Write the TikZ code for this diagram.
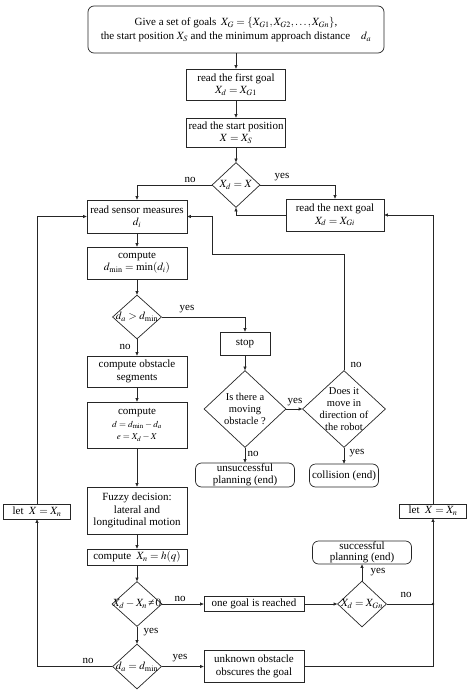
\documentclass[tikz,border=0pt]{standalone}
\usepackage{mathptmx}
\usepackage{fontspec}
\setmainfont{Liberation Serif}
\usetikzlibrary{shapes.geometric,arrows.meta}
\definecolor{ink}{gray}{0.15}
\newcommand\fs{\fontsize{11}{12.5}\selectfont}
\tikzset{
  box/.style={draw=ink, line width=0.7pt, inner sep=1pt, align=center, font=\fs, text=black},
  rbox/.style={box, rounded corners=6pt},
  dia/.style={draw=ink, line width=0.7pt, diamond, inner sep=0pt},
  dlab/.style={font=\fs, align=center, inner sep=0pt},
  lab/.style={font=\fs, inner sep=0pt},
  ln/.style={draw=ink, line width=0.7pt},
  arr/.style={ln, -{Triangle[length=3.5pt,width=3pt]}},
}
\begin{document}
\begin{tikzpicture}[x=1pt,y=-1pt]
\useasboundingbox (0,0) rectangle (474,695);
% boxes
\node[rbox, minimum width=296pt, minimum height=47pt, font=\fontsize{11}{14}\selectfont] (top) at (236,29.5)
  {Give a set of goals\, $X_G=\{X_{G1},X_{G2},\dots,X_{Gn}\}$,\\ the start position $X_S$ and the minimum approach distance\quad $d_a$};
\node[box, minimum width=99pt, minimum height=31pt] (first) at (236,84.5) {read the first goal\\ $X_d = X_{G1}$};
\node[box, minimum width=99pt, minimum height=29pt] (start) at (236,132.5) {read the start position\\ $X = X_S$};
\node[dia, minimum width=48pt, minimum height=45pt, label={[dlab]center:$X_d = X$}] (d1) at (236,185) {};
\node[box, minimum width=100pt, minimum height=33pt] (sensor) at (137,216.5) {read sensor measures\\ $d_i$};
\node[box, minimum width=98pt, minimum height=32pt] (next) at (335,215) {read the next goal\\ $X_d = X_{Gi}$};
\node[box, minimum width=100pt, minimum height=32pt] (dmin) at (137,263) {compute\\ $d_{\min} = \min(d_i)$};
\node[dia, minimum width=49pt, minimum height=44pt, label={[dlab]center:$d_a > d_{\min}$}] (d2) at (137,317) {};
\node[box, minimum width=50pt, minimum height=23pt] (stop) at (245,343.5) {stop};
\node[box, minimum width=100pt, minimum height=31pt] (obst) at (137,371.5) {compute obstacle\\ segments};
\node[box, minimum width=100pt, minimum height=46pt] (comp) at (137,425) {compute\\ {\small $d = d_{\min} - d_a$}\\ {\small $e = X_d - X$}};
\node[dia, minimum width=82pt, minimum height=77pt, label={[dlab, font=\fontsize{10.5}{12}\selectfont]center:Is there a\\ moving\\ obstacle ?}] (d3) at (245,409) {};
\node[dia, minimum width=83pt, minimum height=77pt, label={[dlab, font=\fontsize{10.5}{12}\selectfont]center:Does it\\ move in\\ direction of\\ the robot}] (d4) at (344,409) {};
\node[rbox, minimum width=99pt, minimum height=24pt, inner sep=0pt, font=\fontsize{11}{11.5}\selectfont] (unsucc) at (245,475) {unsuccessful\\ planning (end)};
\node[rbox, minimum width=69pt, minimum height=23pt] (coll) at (344,475.5) {collision (end)};
\node[box, minimum width=100pt, minimum height=47pt] (fuzzy) at (137,510.5) {Fuzzy decision:\\ lateral and\\ longitudinal motion};
\node[box, minimum width=67pt, minimum height=15pt] (letL) at (37,511.5) {let\enspace $X = X_n$};
\node[box, minimum width=67pt, minimum height=14pt] (letR) at (433,511) {let\enspace $X = X_n$};
\node[rbox, minimum width=99pt, minimum height=23pt, inner sep=0pt, font=\fontsize{11}{11.5}\selectfont] (succ) at (362,552.5) {successful\\ planning (end)};
\node[box, minimum width=100pt, minimum height=16pt] (compXn) at (137,557) {compute\enspace $X_n = h(q)$};
\node[dia, minimum width=50pt, minimum height=45pt, label={[dlab]center:$X_d - X_n\,$\mbox{≠}$\,0$}] (d5) at (137,604) {};
\node[box, minimum width=100pt, minimum height=15pt] (goal) at (254,604) {one goal is reached};
\node[dia, minimum width=49pt, minimum height=46pt, label={[dlab]center:$X_d = X_{Gn}$}] (d6) at (362,604) {};
\node[dia, minimum width=49pt, minimum height=45pt, label={[dlab]center:$d_a = d_{\min}$}] (d7) at (137,666.5) {};
\node[box, minimum width=100pt, minimum height=32pt] (unknown) at (254,666.5) {unknown obstacle\\ obscures the goal};
\coordinate (dot) at (433,604);
\coordinate (bend) at (212,254);
% connectors
\draw[arr] (top) -- (first);
\draw[arr] (first) -- (start);
\draw[arr] (start) -- (d1);
\draw[arr] (d1.west) -| (sensor.north);
\draw[arr] (d1.east) -| (next.north);
\draw[arr] (next.west) -| (d1.south);
\draw[arr] (sensor) -- (dmin);
\draw[arr] (dmin) -- (d2);
\draw[arr] (d2.east) -| (stop.north);
\draw[arr] (d2) -- (obst);
\draw[arr] (obst) -- (comp);
\draw[arr] (comp) -- (fuzzy);
\draw[arr] (fuzzy) -- (compXn);
\draw[arr] (compXn) -- (d5);
\draw[arr] (d5) -- (goal);
\draw[arr] (goal) -- (d6);
\draw[arr] (d6) -- (succ);
\draw[ln] (d6.east) -- (dot);
\fill[ink] (dot) circle (1.4pt);
\draw[arr] (d5) -- (d7);
\draw[arr] (d7) -- (unknown);
\draw[arr] (d7.west) -| (letL.south);
\draw[arr] (letL.north) |- (sensor.west);
\draw[arr] (unknown.east) -| (letR.south);
\draw[arr] (letR.north) |- (next.east);
\draw[arr] (stop) -- (d3);
\draw[arr] (d3) -- (d4);
\draw[arr] (d3) -- (unsucc);
\draw[arr] (d4) -- (coll);
\draw[ln] (d4.north) |- (bend);
\draw[arr] (bend) |- (sensor.east);
% labels
\node[lab] (l1) at (190,180) {no};
\node[lab] (l2) at (282,177) {yes};
\node[lab] (l3) at (187,309) {yes};
\node[lab] (l4) at (125,347) {no};
\node[lab] (l5) at (356,365) {no};
\node[lab] (l6) at (295,402) {yes};
\node[lab] (l7) at (253,454) {no};
\node[lab] (l8) at (357,453) {yes};
\node[lab] (l9) at (378,572) {yes};
\node[lab] (l10) at (180,599) {no};
\node[lab] (l11) at (406,595) {no};
\node[lab] (l12) at (151,632) {yes};
\node[lab] (l13) at (88,661) {no};
\node[lab] (l14) at (180,658) {yes};
\end{tikzpicture}
\end{document}
